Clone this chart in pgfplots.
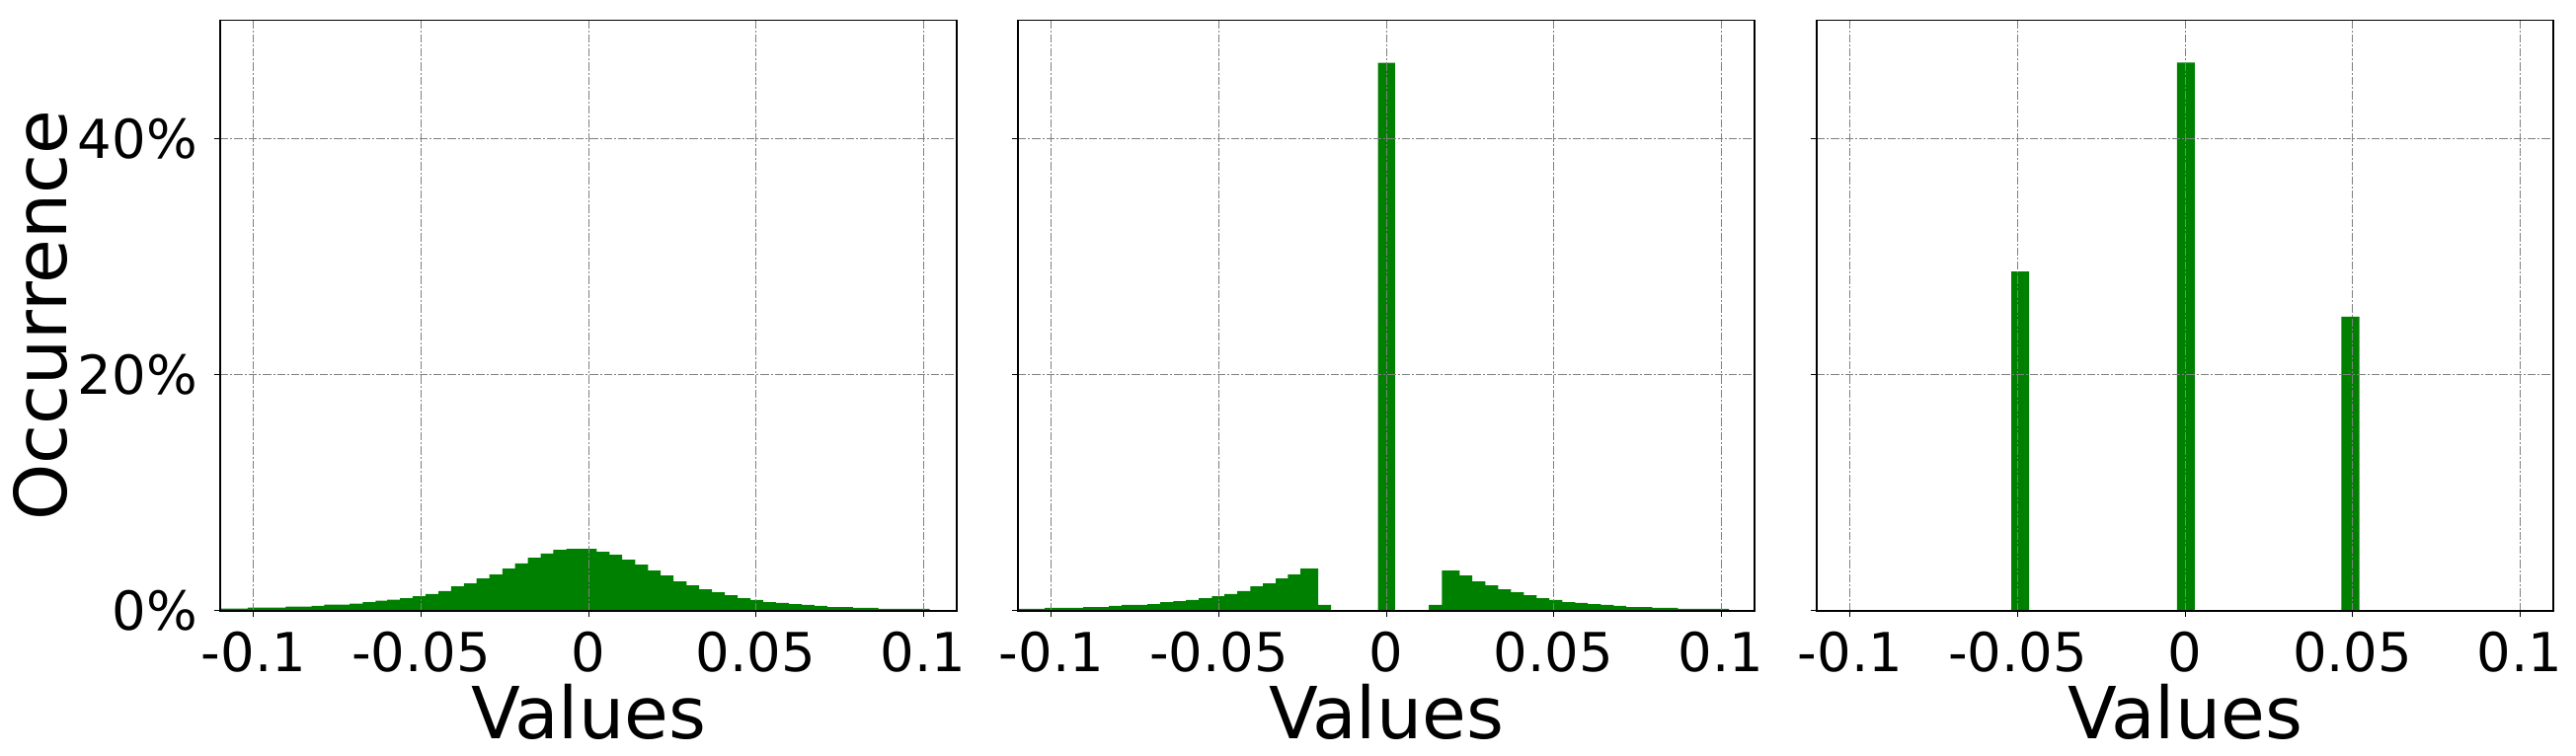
\documentclass[border=0pt]{standalone}
\usepackage{fontspec}
\setmainfont{DejaVu Sans}
\usepackage{pgfplots}
\pgfplotsset{compat=1.18}
\definecolor{mplgreen}{RGB}{0,128,0}
\newcommand{\tickfont}{\fontsize{13.6}{15}\selectfont}
\newcommand{\labfont}{\fontsize{18.2}{21}\selectfont}
\pgfplotsset{
  myhist/.style={
    scale only axis,
    width=186.5pt, height=149.6pt,
    xmin=-0.11, xmax=0.11, ymin=0, ymax=50,
    axis on top,
    xtick={-0.1,-0.05,0,0.05,0.1},
    xticklabels={-0.1,-0.05,0,0.05,0.1},
    ytick={0,20,40},
    xtick pos=bottom, ytick pos=left,
    tick align=outside,
    major tick length=1.6pt,
    tick style={black, line width=0.25pt},
    axis line style={black, line width=0.3pt},
    grid=major,
    major grid style={gray, line width=0.25pt, dash pattern=on 2.1pt off 0.5pt on 0.5pt off 0.5pt},
    xticklabel style={font=\tickfont, anchor=north, inner sep=0pt, yshift=-3.6pt},
    yticklabel style={font=\tickfont, anchor=east, inner sep=0pt, xshift=-4pt},
    xlabel={Values},
    xlabel style={font=\labfont, at={(axis description cs:0.5,-0.122)}, anchor=north, inner sep=0pt},
  }
}
\begin{document}
\begin{tikzpicture}
\path[use as bounding box] (-55.75pt,-36.75pt) rectangle (596.5pt,154.75pt);
% Panel 1
\begin{axis}[myhist, at={(0pt,0pt)},
  yticklabels={0\%,20\%,40\%},
  ylabel={Occurrence},
  ylabel style={font=\labfont, at={(axis description cs:-0.2064,0.5)}, anchor=south, inner sep=0pt},
]
\addplot[const plot, fill=mplgreen, draw=none] coordinates {
(-0.1097,0.19) (-0.1018,0.28) (-0.0904,0.36) (-0.0827,0.42) (-0.0789,0.53) (-0.0713,0.61)
(-0.0674,0.75) (-0.0636,0.86) (-0.0601,0.94) (-0.0563,1.08) (-0.0525,1.25) (-0.0487,1.42)
(-0.0448,1.69) (-0.0410,2.08) (-0.0372,2.33) (-0.0334,2.75) (-0.0296,3.08) (-0.0257,3.58)
(-0.0219,4.03) (-0.0181,4.50) (-0.0143,4.86) (-0.0105,5.17) (-0.0066,5.25) (-0.0028,5.25)
(0.0025,5.00) (0.0063,4.75) (0.0101,4.33) (0.0140,3.92) (0.0178,3.42) (0.0216,3.00)
(0.0254,2.50) (0.0293,2.17) (0.0331,1.83) (0.0369,1.58) (0.0407,1.33) (0.0446,1.08)
(0.0484,0.92) (0.0522,0.75) (0.0560,0.67) (0.0599,0.58) (0.0637,0.50) (0.0675,0.42)
(0.0713,0.33) (0.0790,0.25) (0.0866,0.17) (0.1019,0.08) (0.1098,0)
} \closedcycle;
\end{axis}
% Panel 2
\begin{axis}[myhist, at={(202pt,0pt)}, yticklabels={}]
\addplot[const plot, fill=mplgreen, draw=none] coordinates {
(-0.1099,0.17) (-0.1020,0.25) (-0.0905,0.33) (-0.0828,0.42) (-0.0790,0.50) (-0.0713,0.58)
(-0.0675,0.75) (-0.0636,0.83) (-0.0598,0.92) (-0.0560,1.08) (-0.0521,1.25) (-0.0483,1.42)
(-0.0445,1.67) (-0.0406,2.08) (-0.0368,2.33) (-0.0330,2.75) (-0.0294,3.08) (-0.0256,3.58)
(-0.0203,0.50) (-0.0165,0) (-0.0025,46.4) (0.0026,0) (0.0127,0.50) (0.0166,3.42)
(0.0219,3.00) (0.0257,2.50) (0.0296,2.17) (0.0334,1.83) (0.0373,1.58) (0.0411,1.33)
(0.0449,1.08) (0.0487,0.92) (0.0526,0.75) (0.0564,0.67) (0.0602,0.58) (0.0641,0.50)
(0.0679,0.42) (0.0717,0.33) (0.0794,0.25) (0.0871,0.17) (0.1024,0.08) (0.1103,0)
} \closedcycle;
\end{axis}
% Panel 3
\begin{axis}[myhist, at={(404.25pt,0pt)}, yticklabels={}]
\addplot[const plot, fill=mplgreen, draw=none] coordinates {
(-0.0519,28.73) (-0.0466,0) (-0.0024,46.43) (0.0029,0) (0.0467,24.9) (0.0521,0)
} \closedcycle;
\end{axis}
\end{tikzpicture}
\end{document}
